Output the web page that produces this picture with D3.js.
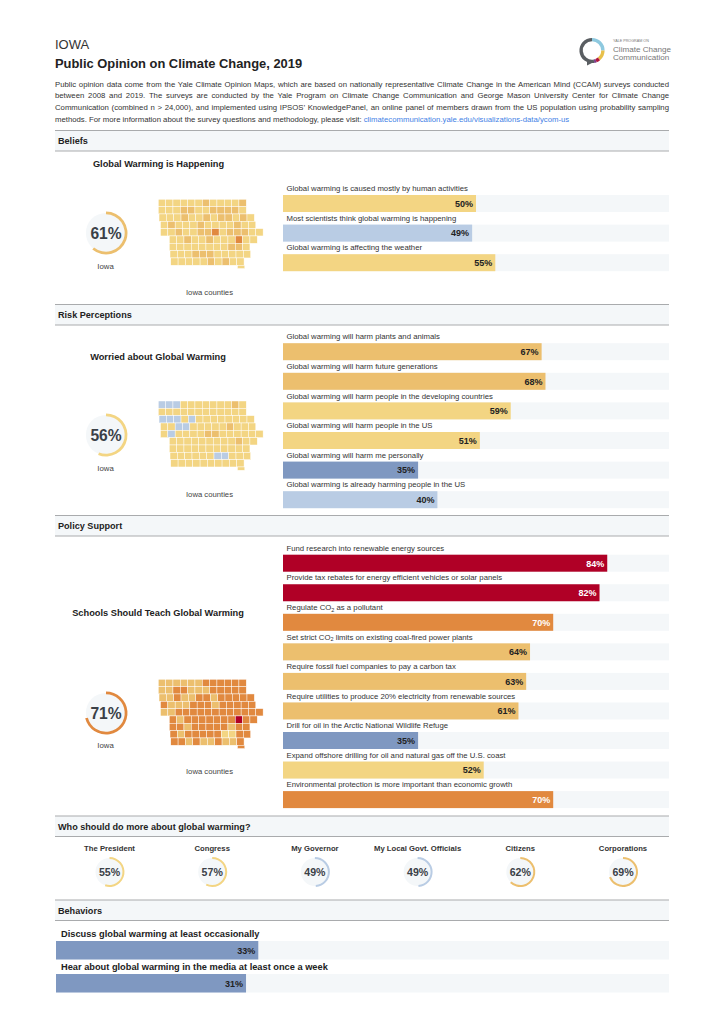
<!DOCTYPE html>
<html><head><meta charset="utf-8">
<script src="https://cdnjs.cloudflare.com/ajax/libs/d3/7.8.5/d3.min.js"></script>
<style>html,body{margin:0;padding:0;background:#fff}svg{display:block}text{font-family:"Liberation Sans",Arial,sans-serif}</style>
</head><body><svg id="c" width="724" height="1024"></svg>
<script>
const introLines = [
 "Public opinion data come from the Yale Climate Opinion Maps, which are based on nationally representative Climate Change in the American Mind (CCAM) surveys conducted",
 "between 2008 and 2019. The surveys are conducted by the Yale Program on Climate Change Communication and George Mason University Center for Climate Change",
 "Communication (combined n > 24,000), and implemented using IPSOS’ KnowledgePanel, an online panel of members drawn from the US population using probability sampling"];
const introLast = "methods. For more information about the survey questions and methodology, please visit: ";
const introLink = "climatecommunication.yale.edu/visualizations-data/ycom-us";

const sections = ["Beliefs","Risk Perceptions","Policy Support","Who should do more about global warming?","Behaviors"];

const beliefLabels = ["Global warming is caused mostly by human activities","Most scientists think global warming is happening","Global warming is affecting the weather"];
const beliefValues = [50,49,55];
const riskLabels = ["Global warming will harm plants and animals","Global warming will harm future generations","Global warming will harm people in the developing countries","Global warming will harm people in the US","Global warming will harm me personally","Global warming is already harming people in the US"];
const riskValues = [67,68,59,51,35,40];
const policyLabels = ["Fund research into renewable energy sources","Provide tax rebates for energy efficient vehicles or solar panels","Regulate CO2 as a pollutant","Set strict CO2 limits on existing coal-fired power plants","Require fossil fuel companies to pay a carbon tax","Require utilities to produce 20% electricity from renewable sources","Drill for oil in the Arctic National Wildlife Refuge","Expand offshore drilling for oil and natural gas off the U.S. coast","Environmental protection is more important than economic growth"];
const policyValues = [84,82,70,64,63,61,35,52,70];
const whoLabels = ["The President","Congress","My Governor","My Local Govt. Officials","Citizens","Corporations"];
const whoValues = [55,57,49,49,62,69];
const behaviorLabels = ["Discuss global warming at least occasionally","Hear about global warming in the media at least once a week"];
const behaviorValues = [33,31];

// County shares, one digit per county: its ten-percent band (5 = 50s, 6 = 60s ...)
const countyHappening = ["555555655556","555665566665","5556556566565","5655565555655","55655667566655","556556555755","55555555665","55566655555","5555565655","5"];
const countyWorried   = ["444555555565","555555555555","4445455555555","5544555556555","54555566555555","555555555655","55555555555","55555544555","5555555555","5"];
const countyTeach     = ["666666777777","667766677777","6676677677777","7666777677777","66777777777777","767777777877","77677777677","76777775577","7767667667","7"];

const bandValue = d => (+d) * 10 + 5;

const C = {blue2:"#7f98c1",blue1:"#b9cce4",yellow:"#f3d583",gold:"#ecbf6e",orange:"#e1893f",red:"#b00026"};
const colour = d3.scaleThreshold().domain([40,50,60,70,80]).range([C.blue2,C.blue1,C.yellow,C.gold,C.orange,C.red]);
const PANEL = "#f4f7f9", INK="#222", LEFT=55, RIGHT=669;
const svg = d3.select("#c");
const txt = (g,x,y,s,size,opt={}) => g.append("text").attr("x",x).attr("y",y).attr("font-size",size)
   .attr("fill",opt.fill||INK).attr("font-weight",opt.bold?"bold":null).attr("text-anchor",opt.anchor||"start").text(s);

// Header
txt(svg,LEFT,49,"IOWA",13,{fill:"#333"});
txt(svg,LEFT,68.3,"Public Opinion on Climate Change, 2019",12.9,{bold:true});
const introY = d3.scalePoint().domain(d3.range(4)).range([86.5,121.5]);
introLines.forEach((l,i)=>{
  const t = txt(svg,LEFT,introY(i),l,7.75,{fill:"#333"});
  const gaps = l.split(" ").length-1, w=t.node().getComputedTextLength();
  t.attr("word-spacing",(RIGHT-LEFT-w)/gaps);
});
const last = txt(svg,LEFT,introY(3),introLast,7.75,{fill:"#333"});
last.append("tspan").attr("fill","#3f7fe6").text(introLink);

// Logo
const logo = svg.append("g").attr("transform","translate(592,50.5)");
const logoArc = d3.arc().innerRadius(9.2).outerRadius(12.6);
const logoParts = [[0,0.25,"#8ec9df"],[0.25,0.39,"#e8c04a"],[0.39,0.44,"#b3173b"],[0.44,0.47,"#7d3c8c"],[0.47,1,"#5a5e62"]];
logoParts.forEach(p=>{
  logo.append("path").attr("d",logoArc({startAngle:p[0]*2*Math.PI,endAngle:p[1]*2*Math.PI})).attr("fill",p[2]);
});
logo.append("path").attr("d",d3.line()([[-5,9],[1,12],[-5,15]])).attr("fill","#5a5e62");
txt(svg,613,42.3,"YALE PROGRAM ON",3.7,{fill:"#777"});
txt(svg,613,51.5,"Climate Change",8.1,{fill:"#777"});
txt(svg,613,60,"Communication",8.1,{fill:"#777"});

// Section headers
const sectionTop = [130.5,304.5,515.5,816,900];
sections.forEach((s,i)=>{
  const y=sectionTop[i], h=20.5;
  svg.append("rect").attr("x",LEFT).attr("y",y).attr("width",RIGHT-LEFT).attr("height",h).attr("fill",PANEL);
  [y,y+h].forEach(v=>svg.append("line").attr("x1",LEFT).attr("x2",RIGHT).attr("y1",v).attr("y2",v).attr("stroke","#a9abad").attr("stroke-width",1.2));
  txt(svg,58,y+13.8,s,9.1,{bold:true});
});

// Bars
function bars(labels,values,x,top,pitch,h,opt={}){
  const g=svg.append("g");
  labels.forEach((l,i)=>{
    const y=top+i*pitch;
    g.append("rect").attr("x",x(0)).attr("y",y).attr("width",x(100)-x(0)).attr("height",h).attr("fill",PANEL);
    g.append("rect").attr("x",x(0)).attr("y",y).attr("width",x(values[i])-x(0)).attr("height",h).attr("fill",colour(values[i]));
    const parts=l.split("CO2");
    const t=g.append("text").attr("x",opt.labelX).attr("y",y-(opt.labelUp||3.8)).attr("font-size",opt.labelSize||7.75)
      .attr("fill",opt.labelBold?INK:"#333").attr("font-weight",opt.labelBold?"bold":null);
    parts.forEach((p,k)=>{
      const a=t.append("tspan").text(p);
      if(k>0) a.attr("dy",-1.5);
      if(k<parts.length-1){
        t.append("tspan").text("CO");
        t.append("tspan").attr("font-size",5.5).attr("dy",1.5).text("2");
      }
    });
    txt(g,x(values[i])-(opt.pad||3),y+h/2+3.3,values[i]+"%",9,{bold:true,anchor:"end",fill:values[i]>=70?"#fff":INK});
  });
}
const xBar = d3.scaleLinear().domain([0,100]).range([283,669]);
bars(beliefLabels,beliefValues,xBar,195,29.6,17,{labelX:286.5});
bars(riskLabels,riskValues,xBar,343.2,29.6,17,{labelX:286.5});
bars(policyLabels,policyValues,xBar,554.7,29.55,17,{labelX:286.5});
const xBeh = d3.scaleLinear().domain([0,100]).range([56,669]);
bars(behaviorLabels,behaviorValues,xBeh,941,33,18.5,{labelX:61,labelSize:9.25,labelBold:true,labelUp:4.5});

// Rings
function ring(cx,cy,r,sw,v,size,bold){
  const g=svg.append("g").attr("transform",`translate(${cx},${cy})`);
  const angle=d3.scaleLinear().domain([0,100]).range([0,2*Math.PI]);
  g.append("circle").attr("r",r-sw/2).attr("fill",PANEL);
  g.append("path").attr("d",d3.arc().innerRadius(r-sw).outerRadius(r)({startAngle:0,endAngle:angle(v)})).attr("fill",colour(v));
  txt(g,0,size*0.36,v+"%",size,{anchor:"middle",fill:"#3a4047",bold:bold});
}
const whoX = d3.scalePoint().domain(whoLabels).range([109.5,623]);
whoLabels.forEach((l,i)=>{
  txt(svg,whoX(l),850.5,l,7.7,{bold:true,anchor:"middle",fill:"#333"});
  ring(whoX(l),872,15,2,whoValues[i],10.6,true);
});

// County maps
const rowStart = [0,0,0.1,0.3,0.3,1.5,1.5,1.6,1.7,10.8];
const rowSpan  = [1,1,1,1,1,1,1,1,1,0.45];
function map(rows,x0,y0){
  const mx=d3.scaleLinear().domain([0,1]).range([x0,x0+7.33]);
  const my=d3.scaleLinear().domain([0,1]).range([y0,y0+7.33]);
  const g=svg.append("g");
  rows.forEach((row,r)=>{
    [...row].forEach((d,c)=>{
      const s=rowStart[r]+c;
      g.append("rect").attr("x",mx(s)).attr("y",my(r)).attr("width",mx(1)-mx(0)).attr("height",(my(1)-my(0))*rowSpan[r])
       .attr("fill",colour(bandValue(d))).attr("stroke","#fff").attr("stroke-width",0.45);
    });
  });
}
// Feature panels
const panels=[
 {title:"Global Warming is Happening",ty:166.5,tx:158.5,v:61,cy:233,iy:269,cty:295,my:199.3,rows:countyHappening},
 {title:"Worried about Global Warming",ty:359.5,tx:158,v:56,cy:435,iy:471,cty:497,my:401,rows:countyWorried},
 {title:"Schools Should Teach Global Warming",ty:615.5,tx:158,v:71,cy:713,iy:748,cty:774,my:679.3,rows:countyTeach}];
panels.forEach(p=>{
  txt(svg,p.tx,p.ty,p.title,9.25,{bold:true,anchor:"middle"});
  ring(106,p.cy,21.5,2.8,p.v,15.6,true);
  txt(svg,105.5,p.iy,"Iowa",7.8,{anchor:"middle",fill:"#444"});
  map(p.rows,158.3,p.my);
  txt(svg,209.5,p.cty,"Iowa counties",7.7,{anchor:"middle",fill:"#444"});
});
</script></body></html>
